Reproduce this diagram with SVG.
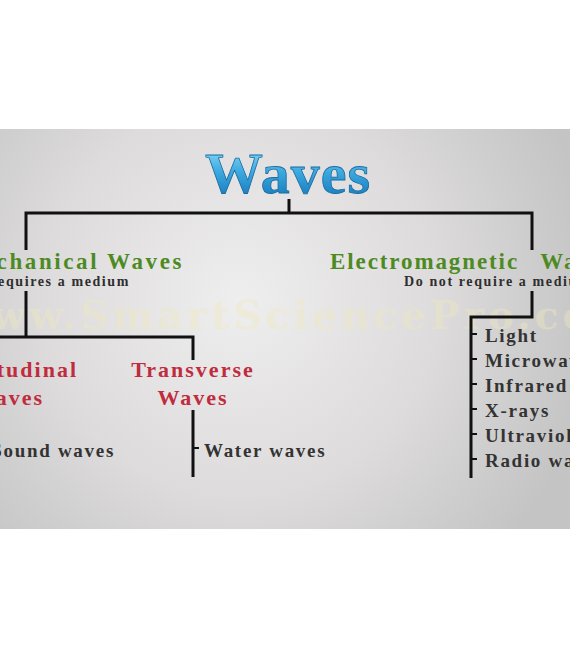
<svg xmlns="http://www.w3.org/2000/svg" width="570" height="657" viewBox="0 0 570 657">
  <defs>
    <radialGradient id="bg" cx="240" cy="300" r="360" gradientUnits="userSpaceOnUse">
      <stop offset="0" stop-color="#efeeee"/>
      <stop offset="0.55" stop-color="#dddbdc"/>
      <stop offset="1" stop-color="#c4c4c4"/>
    </radialGradient>
    <linearGradient id="titleGrad" x1="0" y1="150" x2="0" y2="195" gradientUnits="userSpaceOnUse">
      <stop offset="0" stop-color="#7fd6f7"/>
      <stop offset="0.5" stop-color="#3aa8df"/>
      <stop offset="1" stop-color="#1c7fc0"/>
    </linearGradient>
    <style>
      .ln { stroke: #111; stroke-width: 3; fill: none; stroke-linecap: butt; }
      .tk { stroke: #111; stroke-width: 2; fill: none; }
      .head { font-family: "Liberation Serif", serif; font-weight: bold; }
      .green { fill: #4d8b22; font-size: 23px; }
      .red { fill: #c02c3d; font-size: 22px; letter-spacing: 2px; }
      .sub { fill: #2e2e2e; font-size: 14px; letter-spacing: 1.6px; }
      .item { fill: #333; font-size: 19px; letter-spacing: 1.7px; }
      .wm { font-family: "DejaVu Serif", serif; font-weight: bold; font-size: 39px; letter-spacing: 4px; fill: #efe9bd; opacity: 0.4; }
    </style>
  </defs>

  <rect x="0" y="0" width="570" height="657" fill="#ffffff"/>
  <rect x="0" y="129" width="570" height="400" fill="url(#bg)"/>

  <text class="wm" x="-46" y="329">www.SmartSciencePro.com</text>

  <g id="connectors">
    <path class="ln" d="M289 199 V213"/>
    <path class="ln" d="M26 250 V213 H532 V250"/>
    <path class="ln" d="M26 291 V337"/>
    <path class="ln" d="M-10 337 H193 V360"/>
    <path class="ln" d="M193 410 V477"/>
    <path class="tk" d="M193 448 H199"/>
    <path class="ln" d="M532 291 V317 H471 V478"/>
    <path class="tk" d="M471 334 H477 M471 359 H477 M471 384 H477 M471 409 H477 M471 434 H477 M471 459 H477"/>
  </g>

  <g id="title">
    <text x="205" y="193" font-family="Liberation Serif, serif" font-weight="bold" font-size="58" letter-spacing="1" fill="url(#titleGrad)" stroke="#1b6b9e" stroke-width="0.8">Waves</text>
  </g>

  <g id="mechanical">
    <text class="head green" x="184" y="269" text-anchor="end" font-size="24" letter-spacing="2.6" word-spacing="0">Mechanical Waves</text>
    <text class="head sub" x="130" y="286" text-anchor="end">Requires a medium</text>
  </g>

  <g id="electromagnetic">
    <text class="head green" x="330" y="269" letter-spacing="1.9" word-spacing="14">Electromagnetic Waves</text>
    <text class="head sub" x="404" y="286">Do not require a medium</text>
  </g>

  <g id="longitudinal">
    <text class="head red" x="78" y="377" text-anchor="end">Longitudinal</text>
    <text class="head red" x="44" y="405" text-anchor="end">Waves</text>
  </g>

  <g id="transverse">
    <text class="head red" x="193" y="377" text-anchor="middle">Transverse</text>
    <text class="head red" x="193" y="405" text-anchor="middle">Waves</text>
  </g>

  <g id="sound">
    <text class="head item" x="115" y="457" text-anchor="end">Sound waves</text>
  </g>

  <g id="water">
    <text class="head item" x="204" y="457">Water waves</text>
  </g>

  <g id="em-list">
    <text class="head item" x="485" y="342">Light</text>
    <text class="head item" x="485" y="367">Microwaves</text>
    <text class="head item" x="485" y="392">Infrared</text>
    <text class="head item" x="485" y="417">X-rays</text>
    <text class="head item" x="485" y="442">Ultraviolet</text>
    <text class="head item" x="485" y="467">Radio waves</text>
  </g>
</svg>
